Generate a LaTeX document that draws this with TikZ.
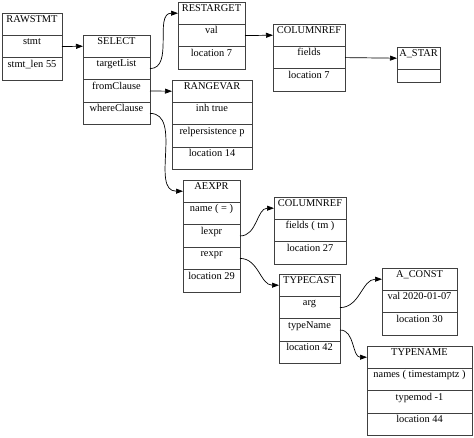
\documentclass[tikz,border=0pt]{standalone}
\usepackage{fontspec}
\setmainfont{Liberation Serif}
\usetikzlibrary{arrows.meta,positioning}

\begin{document}
\begin{tikzpicture}[x=1pt, y=-1pt,
    every node/.style={font=\fontsize{10.4}{12}\selectfont},
    cell/.style={rectangle, draw=black!75, line width=0.7pt, minimum width=#1,
                 inner xsep=2pt, inner ysep=1.5pt, outer sep=0pt,
                 text height=8pt, text depth=11.4pt, anchor=north west},
    e/.style={-{Triangle[length=7pt, width=5pt]}, line width=0.7pt},
  ]
  \useasboundingbox (0,0) rectangle (474,438);
  % RAWSTMT
  \node[cell=60pt] (raw) at (2,13) {RAWSTMT};
  \node[cell=60pt, below=0pt of raw] (raw-stmt) {stmt};
  \node[cell=60pt, below=0pt of raw-stmt] (raw-len) {stmt\_len 55};
  % SELECT
  \node[cell=67pt] (sel) at (83,35) {SELECT};
  \node[cell=67pt, below=0pt of sel] (sel-tl) {targetList};
  \node[cell=67pt, below=0pt of sel-tl] (sel-from) {fromClause};
  \node[cell=67pt, below=0pt of sel-from] (sel-where) {whereClause};
  % RESTARGET
  \node[cell=67pt] (rt) at (178,2) {RESTARGET};
  \node[cell=67pt, below=0pt of rt] (rt-val) {val};
  \node[cell=67pt, below=0pt of rt-val] (rt-loc) {location 7};
  % COLUMNREF
  \node[cell=72pt] (cr) at (273,24) {COLUMNREF};
  \node[cell=72pt, below=0pt of cr] (cr-fields) {fields};
  \node[cell=72pt, below=0pt of cr-fields] (cr-loc) {location 7};
  % A_STAR
  \node[cell=43pt] (star) at (397,47) {A\_STAR};
  \node[cell=43pt, below=0pt of star, text height=5pt, text depth=5pt] (star-e) {};
  % RANGEVAR
  \node[cell=80pt] (rv) at (172,80) {RANGEVAR};
  \node[cell=80pt, below=0pt of rv] (rv-inh) {inh true};
  \node[cell=80pt, below=0pt of rv-inh] (rv-rel) {relpersistence p};
  \node[cell=80pt, below=0pt of rv-rel] (rv-loc) {location 14};
  % AEXPR
  \node[cell=57pt] (ax) at (183,180) {AEXPR};
  \node[cell=57pt, below=0pt of ax] (ax-name) {name ( = )};
  \node[cell=57pt, below=0pt of ax-name] (ax-lexpr) {lexpr};
  \node[cell=57pt, below=0pt of ax-lexpr] (ax-rexpr) {rexpr};
  \node[cell=57pt, below=0pt of ax-rexpr] (ax-loc) {location 29};
  % COLUMNREF (lexpr)
  \node[cell=72pt] (cr2) at (274,197) {COLUMNREF};
  \node[cell=72pt, below=0pt of cr2] (cr2-fields) {fields ( tm )};
  \node[cell=72pt, below=0pt of cr2-fields] (cr2-loc) {location 27};
  % TYPECAST
  \node[cell=61pt] (tc) at (279,274) {TYPECAST};
  \node[cell=61pt, below=0pt of tc] (tc-arg) {arg};
  \node[cell=61pt, below=0pt of tc-arg] (tc-type) {typeName};
  \node[cell=61pt, below=0pt of tc-type] (tc-loc) {location 42};
  % A_CONST
  \node[cell=75pt] (ac) at (382,268) {A\_CONST};
  \node[cell=75pt, below=0pt of ac] (ac-val) {val 2020-01-07};
  \node[cell=75pt, below=0pt of ac-val] (ac-loc) {location 30};
  % TYPENAME
  \node[cell=105pt] (tn) at (367,346) {TYPENAME};
  \node[cell=105pt, below=0pt of tn] (tn-names) {names ( timestamptz )};
  \node[cell=105pt, below=0pt of tn-names] (tn-mod) {typemod -1};
  \node[cell=105pt, below=0pt of tn-mod] (tn-loc) {location 44};
  % edges
  \draw[e] (raw-stmt.east) -- (sel.west);
  \draw[e] (sel-tl.east) to[out=0, in=180] (rt.west);
  \draw[e] (sel-from.east) -- (rv.west);
  \draw[e] (sel-where.east) to[out=0, in=180] (ax.west);
  \draw[e] (rt-val.east) -- (cr.west);
  \draw[e] (cr-fields.east) -- (star.west);
  \draw[e] (ax-lexpr.east) to[out=0, in=180] (cr2.west);
  \draw[e] (ax-rexpr.east) to[out=0, in=180] (tc.west);
  \draw[e] (tc-arg.east) to[out=0, in=180] (ac.west);
  \draw[e] (tc-type.east) to[out=0, in=180] (tn.west);
\end{tikzpicture}
\end{document}
